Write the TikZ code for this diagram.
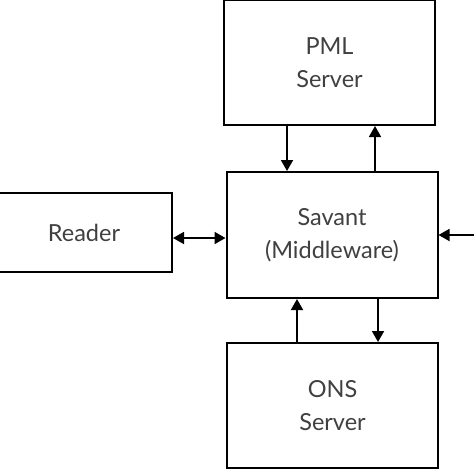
\documentclass[tikz,border=0pt]{standalone}
\usepackage{fontspec}
\setmainfont{Lato}
\usetikzlibrary{arrows.meta}
\begin{document}
\begin{tikzpicture}[x=1pt,y=-1pt,
  box/.style={draw=black, line width=2pt, rectangle, inner sep=0pt, align=center,
    text=black!75, font=\fontsize{23.5}{33}\selectfont},
  arr/.style={line width=1.8pt, -{Triangle[length=11pt,width=12pt]}},
  darr/.style={line width=1.8pt, {Triangle[length=11pt,width=12pt]}-{Triangle[length=11pt,width=12pt]}}]
\useasboundingbox (0,0) rectangle (474,474);
\node[box, minimum width=211pt, minimum height=125pt] (pml) at (329.5,62.5) {PML\\Server};
\node[box, minimum width=211pt, minimum height=126pt] (sav) at (332,235) {Savant\\(Middleware)};
\node[box, minimum width=182pt, minimum height=79pt] (rdr) at (81,232.5) {\hspace*{6pt}Reader};
\node[box, minimum width=211pt, minimum height=125pt] (ons) at (332.5,405.5) {ONS\\Server};
\coordinate (p1) at ([xshift=-42.5pt]pml.south);
\coordinate (p2) at ([xshift=45.5pt]pml.south);
\coordinate (o1) at ([xshift=-35.5pt]ons.north);
\coordinate (o2) at ([xshift=45.5pt]ons.north);
\coordinate (r1) at ([yshift=-5.5pt]rdr.east);
\coordinate (ext) at (480,235);
\draw[arr] (p1) -- (p1 |- sav.north);
\draw[arr] (p2 |- sav.north) -- (p2);
\draw[arr] (o1) -- (o1 |- sav.south);
\draw[arr] (o2 |- sav.south) -- (o2);
\draw[darr] (r1) -- (r1 -| sav.west);
\draw[arr] (ext) -- (ext -| sav.east);
\end{tikzpicture}
\end{document}
